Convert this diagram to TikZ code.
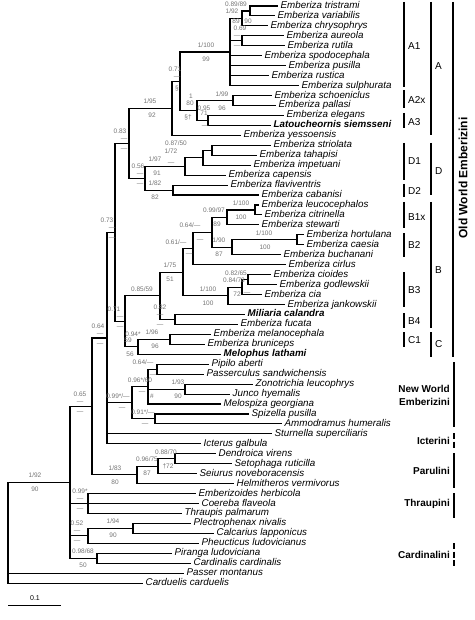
\documentclass[tikz,border=0pt]{standalone}
\usepackage{fontspec}
\setmainfont{Liberation Sans}
\usepackage{tikz}
\usetikzlibrary{positioning}
\newcommand{\tipy}[1]{6+9.95*(#1-1)}

\begin{document}
\begin{tikzpicture}[
    x=1pt, y=-1pt,
    br/.style={line width=1.1pt},
    leaf/.style={anchor=west, inner xsep=2.5pt, inner ysep=0pt, text height=7pt, text depth=2pt, font=\fontsize{9.8}{10}\selectfont\itshape},
    bleaf/.style={leaf, font=\fontsize{9.8}{10}\selectfont\bfseries\itshape},
    sv/.style={anchor=base, inner sep=0pt, text=black!55, font=\fontsize{6.5}{7}\selectfont},
    svu/.style={sv, yshift=4.5pt},
    svd/.style={sv, yshift=-9.5pt},
    svt/.style={sv, yshift=10pt},
    dshu/.style={sv, yshift=3pt},
    dshd/.style={sv, yshift=-7pt},
    bar/.style={line width=1.2pt},
    dbar/.style={bar, dash pattern=on 6pt off 2.5pt},
    clade/.style={anchor=west, inner sep=0pt, font=\fontsize{10}{12}\selectfont},
    tribe/.style={anchor=east, align=right, inner sep=0pt, font=\fontsize{10}{13}\selectfont\bfseries},
]
\useasboundingbox (0,0) rectangle (474,620);

% leaves
\node[leaf] (tristrami) at (278,{\tipy{1}}) {Emberiza tristrami};
\node[leaf] (variabilis) at (275,{\tipy{2}}) {Emberiza variabilis};
\node[leaf] (chrysophrys) at (268,{\tipy{3}}) {Emberiza chrysophrys};
\node[leaf] (aureola) at (284,{\tipy{4}}) {Emberiza aureola};
\node[leaf] (rutila) at (285,{\tipy{5}}) {Emberiza rutila};
\node[leaf] (spodocephala) at (262,{\tipy{6}}) {Emberiza spodocephala};
\node[leaf] (pusilla) at (286,{\tipy{7}}) {Emberiza pusilla};
\node[leaf] (rustica) at (269,{\tipy{8}}) {Emberiza rustica};
\node[leaf] (sulphurata) at (299,{\tipy{9}}) {Emberiza sulphurata};
\node[leaf] (schoeniclus) at (272,{\tipy{10}}) {Emberiza schoeniclus};
\node[leaf] (pallasi) at (276,{\tipy{11}}) {Emberiza pallasi};
\node[leaf] (elegans) at (284,{\tipy{12}}) {Emberiza elegans};
\node[bleaf] (latoucheornis) at (271,{\tipy{13}}) {Latoucheornis siemsseni};
\node[leaf] (yessoensis) at (241,{\tipy{14}}) {Emberiza yessoensis};
\node[leaf] (striolata) at (271,{\tipy{15}}) {Emberiza striolata};
\node[leaf] (tahapisi) at (257,{\tipy{16}}) {Emberiza tahapisi};
\node[leaf] (impetuani) at (251,{\tipy{17}}) {Emberiza impetuani};
\node[leaf] (capensis) at (226,{\tipy{18}}) {Emberiza capensis};
\node[leaf] (flaviventris) at (228,{\tipy{19}}) {Emberiza flaviventris};
\node[leaf] (cabanisi) at (259,{\tipy{20}}) {Emberiza cabanisi};
\node[leaf] (leucocephalos) at (259,{\tipy{21}}) {Emberiza leucocephalos};
\node[leaf] (citrinella) at (262,{\tipy{22}}) {Emberiza citrinella};
\node[leaf] (stewarti) at (259,{\tipy{23}}) {Emberiza stewarti};
\node[leaf] (hortulana) at (304,{\tipy{24}}) {Emberiza hortulana};
\node[leaf] (caesia) at (304,{\tipy{25}}) {Emberiza caesia};
\node[leaf] (buchanani) at (281,{\tipy{26}}) {Emberiza buchanani};
\node[leaf] (cirlus) at (286,{\tipy{27}}) {Emberiza cirlus};
\node[leaf] (cioides) at (271,{\tipy{28}}) {Emberiza cioides};
\node[leaf] (godlewskii) at (277,{\tipy{29}}) {Emberiza godlewskii};
\node[leaf] (cia) at (262,{\tipy{30}}) {Emberiza cia};
\node[leaf] (jankowskii) at (285,{\tipy{31}}) {Emberiza jankowskii};
\node[bleaf] (miliaria) at (245,{\tipy{32}}) {Miliaria calandra};
\node[leaf] (fucata) at (238,{\tipy{33}}) {Emberiza fucata};
\node[leaf] (melanocephala) at (211,{\tipy{34}}) {Emberiza melanocephala};
\node[leaf] (bruniceps) at (205,{\tipy{35}}) {Emberiza bruniceps};
\node[bleaf] (melophus) at (221,{\tipy{36}}) {Melophus lathami};
\node[leaf] (pipilo) at (209,{\tipy{37}}) {Pipilo aberti};
\node[leaf] (passerculus) at (204,{\tipy{38}}) {Passerculus sandwichensis};
\node[leaf] (zonotrichia) at (253,{\tipy{39}}) {Zonotrichia leucophrys};
\node[leaf] (junco) at (230,{\tipy{40}}) {Junco hyemalis};
\node[leaf] (melospiza) at (221,{\tipy{41}}) {Melospiza georgiana};
\node[leaf] (spizella) at (249,{\tipy{42}}) {Spizella pusilla};
\node[leaf] (ammodramus) at (282,{\tipy{43}}) {Ammodramus humeralis};
\node[leaf] (sturnella) at (272,{\tipy{44}}) {Sturnella superciliaris};
\node[leaf] (icterus) at (201,{\tipy{45}}) {Icterus galbula};
\node[leaf] (dendroica) at (216,{\tipy{46}}) {Dendroica virens};
\node[leaf] (setophaga) at (232,{\tipy{47}}) {Setophaga ruticilla};
\node[leaf] (seiurus) at (197,{\tipy{48}}) {Seiurus noveboracensis};
\node[leaf] (helmitheros) at (234,{\tipy{49}}) {Helmitheros vermivorus};
\node[leaf] (emberizoides) at (196,{\tipy{50}}) {Emberizoides herbicola};
\node[leaf] (coereba) at (199,{\tipy{51}}) {Coereba flaveola};
\node[leaf] (thraupis) at (182,{\tipy{52}}) {Thraupis palmarum};
\node[leaf] (plectrophenax) at (191,{\tipy{53}}) {Plectrophenax nivalis};
\node[leaf] (calcarius) at (214,{\tipy{54}}) {Calcarius lapponicus};
\node[leaf] (pheucticus) at (199,{\tipy{55}}) {Pheucticus ludovicianus};
\node[leaf] (piranga) at (172,{\tipy{56}}) {Piranga ludoviciana};
\node[leaf] (cardinalis) at (191,{\tipy{57}}) {Cardinalis cardinalis};
\node[leaf] (passer) at (184,{\tipy{58}}) {Passer montanus};
\node[leaf] (carduelis) at (143,{\tipy{59}}) {Carduelis carduelis};

% internal nodes
\coordinate (tv) at (250,{\tipy{1.5}});
\coordinate (tvc) at (242,{\tipy{2.25}});
\coordinate (ar) at (242,{\tipy{4.5}});
\coordinate (a1) at (230,{\tipy{5.625}});
\coordinate (a2x) at (233,{\tipy{10.5}});
\coordinate (a3) at (208,{\tipy{12.5}});
\coordinate (a23) at (197,{\tipy{11.5}});
\coordinate (acore) at (180,{\tipy{8.5625}});
\coordinate (a0) at (172,{\tipy{11.28125}});
\coordinate (st) at (212,{\tipy{15.5}});
\coordinate (sti) at (203,{\tipy{16.25}});
\coordinate (d1) at (185,{\tipy{17.125}});
\coordinate (d2) at (173,{\tipy{19.5}});
\coordinate (d0) at (145,{\tipy{18.3125}});
\coordinate (ad) at (129,{\tipy{14.796875}});
\coordinate (lc) at (255,{\tipy{21.5}});
\coordinate (b1x) at (227,{\tipy{22.25}});
\coordinate (hc) at (297,{\tipy{24.5}});
\coordinate (b2) at (232,{\tipy{25.25}});
\coordinate (b12) at (212,{\tipy{23.75}});
\coordinate (bcir) at (193,{\tipy{25.375}});
\coordinate (cg) at (248,{\tipy{28.5}});
\coordinate (cgc) at (242,{\tipy{29.25}});
\coordinate (b3) at (228,{\tipy{30.125}});
\coordinate (b0) at (183,{\tipy{27.75}});
\coordinate (b4) at (175,{\tipy{32.5}});
\coordinate (bb4) at (160,{\tipy{30.125}});
\coordinate (c1) at (170,{\tipy{34.5}});
\coordinate (c0) at (138,{\tipy{35.25}});
\coordinate (bc) at (125,{\tipy{32.6875}});
\coordinate (ow) at (115,{\tipy{23.7421875}});
\coordinate (pp) at (157,{\tipy{37.5}});
\coordinate (zj) at (185,{\tipy{39.5}});
\coordinate (nw1) at (148,{\tipy{39.25}});
\coordinate (sa) at (155,{\tipy{42.5}});
\coordinate (nw) at (132,{\tipy{40.875}});
\coordinate (emb) at (107,{\tipy{34.37109375}});
\coordinate (ds) at (175,{\tipy{46.5}});
\coordinate (par3) at (158,{\tipy{47.25}});
\coordinate (par2) at (137,{\tipy{48.125}});
\coordinate (core) at (92,{\tipy{41.248046875}});
\coordinate (thr) at (88,{\tipy{51}});
\coordinate (pc) at (133,{\tipy{53.5}});
\coordinate (pcp) at (88,{\tipy{54.25}});
\coordinate (pic) at (97,{\tipy{56.5}});
\coordinate (ing) at (70,{\tipy{48.8740234375}});
\coordinate (root) at (8,{\tipy{48.8740234375}});

% branches
\draw[br] (tv) |- (tristrami.west) (tv) |- (variabilis.west);
\draw[br] (tvc) |- (tv) (tvc) |- (chrysophrys.west);
\draw[br] (ar) |- (aureola.west) (ar) |- (rutila.west);
\draw[br] (a1) |- (tvc) (a1) |- (ar) (a1) |- (spodocephala.west) (a1) |- (pusilla.west) (a1) |- (rustica.west) (a1) |- (sulphurata.west);
\draw[br] (a2x) |- (schoeniclus.west) (a2x) |- (pallasi.west);
\draw[br] (a3) |- (elegans.west) (a3) |- (latoucheornis.west);
\draw[br] (a23) |- (a2x) (a23) |- (a3);
\draw[br] (acore) |- (a1) (acore) |- (a23);
\draw[br] (a0) |- (acore) (a0) |- (yessoensis.west);
\draw[br] (st) |- (striolata.west) (st) |- (tahapisi.west);
\draw[br] (sti) |- (st) (sti) |- (impetuani.west);
\draw[br] (d1) |- (sti) (d1) |- (capensis.west);
\draw[br] (d2) |- (flaviventris.west) (d2) |- (cabanisi.west);
\draw[br] (d0) |- (d1) (d0) |- (d2);
\draw[br] (ad) |- (a0) (ad) |- (d0);
\draw[br] (lc) |- (leucocephalos.west) (lc) |- (citrinella.west);
\draw[br] (b1x) |- (lc) (b1x) |- (stewarti.west);
\draw[br] (hc) |- (hortulana.west) (hc) |- (caesia.west);
\draw[br] (b2) |- (hc) (b2) |- (buchanani.west);
\draw[br] (b12) |- (b1x) (b12) |- (b2);
\draw[br] (bcir) |- (b12) (bcir) |- (cirlus.west);
\draw[br] (cg) |- (cioides.west) (cg) |- (godlewskii.west);
\draw[br] (cgc) |- (cg) (cgc) |- (cia.west);
\draw[br] (b3) |- (cgc) (b3) |- (jankowskii.west);
\draw[br] (b0) |- (bcir) (b0) |- (b3);
\draw[br] (b4) |- (miliaria.west) (b4) |- (fucata.west);
\draw[br] (bb4) |- (b0) (bb4) |- (b4);
\draw[br] (c1) |- (melanocephala.west) (c1) |- (bruniceps.west);
\draw[br] (c0) |- (c1) (c0) |- (melophus.west);
\draw[br] (bc) |- (bb4) (bc) |- (c0);
\draw[br] (ow) |- (ad) (ow) |- (bc);
\draw[br] (pp) |- (pipilo.west) (pp) |- (passerculus.west);
\draw[br] (zj) |- (zonotrichia.west) (zj) |- (junco.west);
\draw[br] (nw1) |- (pp) (nw1) |- (zj) (nw1) |- (melospiza.west);
\draw[br] (sa) |- (spizella.west) (sa) |- (ammodramus.west);
\draw[br] (nw) |- (nw1) (nw) |- (sa);
\draw[br] (emb) |- (ow) (emb) |- (nw) (emb) |- (sturnella.west) (emb) |- (icterus.west);
\draw[br] (ds) |- (dendroica.west) (ds) |- (setophaga.west);
\draw[br] (par3) |- (ds) (par3) |- (seiurus.west);
\draw[br] (par2) |- (par3) (par2) |- (helmitheros.west);
\draw[br] (core) |- (emb) (core) |- (par2);
\draw[br] (thr) |- (emberizoides.west) (thr) |- (coereba.west) (thr) |- (thraupis.west);
\draw[br] (pc) |- (plectrophenax.west) (pc) |- (calcarius.west);
\draw[br] (pcp) |- (pc) (pcp) |- (pheucticus.west);
\draw[br] (pic) |- (piranga.west) (pic) |- (cardinalis.west);
\draw[br] (ing) |- (core) (ing) |- (thr) (ing) |- (pcp) (ing) |- (pic);
\draw[br] (root) -- (ing) (root) |- (passer.west) (root) |- (carduelis.west);

% support values
\node[svu] (s1) at (236,{\tipy{1.5}}) {0.89/89};
\node[svu] (s2) at (232,{\tipy{2.25}}) {1/92};
\node[svd, yshift=4pt] (s3) at (236,{\tipy{2.25}}) {89};
\node[svd, yshift=4pt] (s4) at (248,{\tipy{2.25}}) {90};
\node[svt] (s5) at (240,{\tipy{4.5}}) {0.69};
\node[dshu] (s6) at (237,{\tipy{4.5}}) {—};
\node[dshd] (s7) at (237,{\tipy{4.5}}) {—};
\node[svu] (s8) at (206,{\tipy{5.625}}) {1/100};
\node[svd] (s9) at (206,{\tipy{5.625}}) {99};
\node[svt] (s10) at (175,{\tipy{8.5625}}) {0.71};
\node[dshu] (s11) at (177,{\tipy{8.5625}}) {—};
\node[svd] (s12) at (177,{\tipy{8.5625}}) {§};
\node[svu] (s13) at (222,{\tipy{10.5}}) {1/99};
\node[svd] (s14) at (222,{\tipy{10.5}}) {96};
\node[svt, yshift=2pt] (s15) at (191,{\tipy{11.5}}) {1};
\node[svu] (s16) at (190,{\tipy{11.5}}) {80};
\node[svd] (s17) at (188,{\tipy{11.5}}) {§†};
\node[svt] (s18) at (204,{\tipy{12.5}}) {0.95};
\node[svu] (s19) at (204,{\tipy{12.5}}) {71};
\node[dshd] (s20) at (205,{\tipy{12.5}}) {—};
\node[svu] (s21) at (150,{\tipy{11.28125}}) {1/95};
\node[svd] (s22) at (152,{\tipy{11.28125}}) {92};
\node[svt] (s23) at (120,{\tipy{14.796875}}) {0.83};
\node[dshu] (s24) at (124,{\tipy{14.796875}}) {—};
\node[dshd] (s25) at (124,{\tipy{14.796875}}) {—};
\node[svu] (s26) at (176,{\tipy{15.5}}) {0.87/50};
\node[svu] (s27) at (171,{\tipy{16.25}}) {1/72};
\node[dshd] (s28) at (171,{\tipy{16.25}}) {—};
\node[svu] (s29) at (155,{\tipy{17.125}}) {1/97};
\node[svd] (s30) at (157,{\tipy{17.125}}) {91};
\node[svt] (s31) at (138,{\tipy{18.3125}}) {0.56};
\node[dshu] (s32) at (140,{\tipy{18.3125}}) {—};
\node[dshd] (s33) at (140,{\tipy{18.3125}}) {—};
\node[svu] (s34) at (155,{\tipy{19.5}}) {1/82};
\node[svd] (s35) at (155,{\tipy{19.5}}) {82};
\node[svu] (s36) at (241,{\tipy{21.5}}) {1/100};
\node[svd] (s37) at (241,{\tipy{21.5}}) {100};
\node[svu] (s38) at (214,{\tipy{22.25}}) {0.99/97};
\node[svd] (s39) at (217,{\tipy{22.25}}) {89};
\node[svu] (s40) at (190,{\tipy{23.75}}) {0.64/—};
\node[svd] (s41) at (200,{\tipy{23.75}}) {—};
\node[svu] (s42) at (264,{\tipy{24.5}}) {1/100};
\node[svd] (s43) at (265,{\tipy{24.5}}) {100};
\node[svu] (s44) at (219,{\tipy{25.25}}) {1/90};
\node[svd] (s45) at (219,{\tipy{25.25}}) {87};
\node[svu] (s46) at (176,{\tipy{25.375}}) {0.61/—};
\node[dshd] (s47) at (189,{\tipy{25.375}}) {—};
\node[svu] (s48) at (170,{\tipy{27.75}}) {1/75};
\node[svd] (s49) at (170,{\tipy{27.75}}) {51};
\node[svu] (s50) at (236,{\tipy{28.5}}) {0.82/65};
\node[svu] (s51) at (234,{\tipy{29.25}}) {0.84/78};
\node[dshd] (s52) at (247,{\tipy{29.25}}) {—};
\node[svd] (s53) at (237,{\tipy{29.25}}) {72};
\node[svu] (s54) at (208,{\tipy{30.125}}) {1/100};
\node[svd] (s55) at (208,{\tipy{30.125}}) {100};
\node[svu] (s56) at (142,{\tipy{30.125}}) {0.85/59};
\node[svt] (s57) at (160,{\tipy{32.5}}) {0.82};
\node[dshu] (s58) at (160,{\tipy{32.5}}) {—};
\node[dshd] (s59) at (160,{\tipy{32.5}}) {—};
\node[svt] (s60) at (114,{\tipy{32.6875}}) {0.71};
\node[dshu] (s61) at (120,{\tipy{32.6875}}) {—};
\node[dshd] (s62) at (120,{\tipy{32.6875}}) {—};
\node[svt] (s63) at (133,{\tipy{35.25}}) {0.94*};
\node[svu] (s64) at (128,{\tipy{35.25}}) {59};
\node[svd] (s65) at (130,{\tipy{35.25}}) {56};
\node[svu] (s66) at (152,{\tipy{34.5}}) {1/96};
\node[svd] (s67) at (155,{\tipy{34.5}}) {96};
\node[svt] (s68) at (107,{\tipy{23.7421875}}) {0.73};
\node[dshu] (s69) at (112,{\tipy{23.7421875}}) {—};
\node[dshd] (s70) at (112,{\tipy{23.7421875}}) {—};
\node[svt] (s71) at (98,{\tipy{34.37109375}}) {0.64};
\node[dshu] (s72) at (100,{\tipy{34.37109375}}) {—};
\node[dshd] (s73) at (100,{\tipy{34.37109375}}) {—};
\node[svu] (s74) at (118,{\tipy{40.875}}) {0.99*/—};
\node[dshd] (s75) at (122,{\tipy{40.875}}) {—};
\node[svu] (s76) at (140,{\tipy{39.25}}) {0.96*/60};
\node[dshd] (s77) at (142,{\tipy{39.25}}) {—};
\node[svu] (s78) at (143,{\tipy{37.5}}) {0.64/—};
\node[dshd] (s79) at (153,{\tipy{37.5}}) {—};
\node[svu] (s80) at (178,{\tipy{39.5}}) {1/93};
\node[svd] (s81) at (178,{\tipy{39.5}}) {90};
\node[svd] (s82) at (152,{\tipy{39.5}}) {\#};
\node[svu] (s83) at (143,{\tipy{42.5}}) {0.91*/—};
\node[dshd] (s84) at (145,{\tipy{42.5}}) {—};
\node[svt] (s85) at (80,{\tipy{41.248046875}}) {0.65};
\node[dshu] (s86) at (80,{\tipy{41.248046875}}) {—};
\node[dshd] (s87) at (80,{\tipy{41.248046875}}) {—};
\node[svu] (s88) at (115,{\tipy{48.125}}) {1/83};
\node[svd] (s89) at (115,{\tipy{48.125}}) {80};
\node[svu] (s90) at (147,{\tipy{47.25}}) {0.96/75};
\node[svd] (s91) at (147,{\tipy{47.25}}) {87};
\node[svu] (s92) at (166,{\tipy{46.5}}) {0.88/70};
\node[svd] (s93) at (168,{\tipy{46.5}}) {†72};
\node[svu] (s94) at (35,{\tipy{48.8740234375}}) {1/92};
\node[svd] (s95) at (35,{\tipy{48.8740234375}}) {90};
\node[svt] (s96) at (80,{\tipy{51}}) {0.99*};
\node[dshu] (s97) at (80,{\tipy{51}}) {—};
\node[dshd] (s98) at (80,{\tipy{51}}) {—};
\node[svt] (s99) at (77,{\tipy{54.25}}) {0.52};
\node[dshu] (s100) at (77,{\tipy{54.25}}) {—};
\node[dshd] (s101) at (77,{\tipy{54.25}}) {—};
\node[svu] (s102) at (113,{\tipy{53.5}}) {1/94};
\node[svd] (s103) at (113,{\tipy{53.5}}) {90};
\node[svu] (s104) at (83,{\tipy{56.5}}) {0.98/68};
\node[svd] (s105) at (83,{\tipy{56.5}}) {50};

% clade bars
\draw[bar] (404,2) -- (404,87);
\draw[bar] (404,90) -- (404,108);
\draw[bar] (404,113) -- (404,128);
\draw[bar] (404,143) -- (404,180);
\draw[bar] (404,184) -- (404,197);
\draw[bar] (404,202) -- (404,228);
\draw[bar] (404,233) -- (404,257);
\draw[bar] (404,272) -- (404,307);
\draw[bar] (404,313) -- (404,328);
\draw[bar] (404,332) -- (404,347);
\draw[bar] (431,2) -- (431,135);
\draw[bar] (431,143) -- (431,195);
\draw[bar] (431,202) -- (431,328);
\draw[bar] (431,332) -- (431,357);
\draw[bar] (453,2) -- (453,357);
\draw[bar] (454,362) -- (454,427);
\draw[dbar] (454,433) -- (454,450);
\draw[bar] (454,453) -- (454,488);
\draw[bar] (454,493) -- (454,518);
\draw[dbar] (454,543) -- (454,567);

\node[clade] (ca1) at (408,46) {A1};
\node[clade] (ca2x) at (408,100) {A2x};
\node[clade] (ca3) at (408,122) {A3};
\node[clade] (cd1) at (408,161) {D1};
\node[clade] (cd2) at (408,191) {D2};
\node[clade] (cb1x) at (408,217) {B1x};
\node[clade] (cb2) at (408,245) {B2};
\node[clade] (cb3) at (408,290) {B3};
\node[clade] (cb4) at (408,321) {B4};
\node[clade] (cc1) at (408,340) {C1};
\node[clade] (ca) at (435,66) {A};
\node[clade] (cd) at (435,171) {D};
\node[clade] (cb) at (435,270) {B};
\node[clade] (cc) at (435,344) {C};
\node[rotate=90, inner sep=0pt, font=\fontsize{12}{14}\selectfont\bfseries] (oldworld) at (463,178) {Old World Emberizini};
\node[tribe] (newworld) at (450,395) {New World\\Emberizini};
\node[tribe] (icterini) at (450,441) {Icterini};
\node[tribe] (parulini) at (450,471) {Parulini};
\node[tribe] (thraupini) at (450,504) {Thraupini};
\node[tribe] (cardinalini) at (450,555) {Cardinalini};

% scale bar
\coordinate (sbl) at (8,605);
\coordinate (sbr) at (61,605);
\draw[line width=1pt] (sbl) -- (sbr);
\node[font=\fontsize{7}{8}\selectfont, inner sep=0pt] (sblab) at (35,598) {0.1};

\end{tikzpicture}
\end{document}
